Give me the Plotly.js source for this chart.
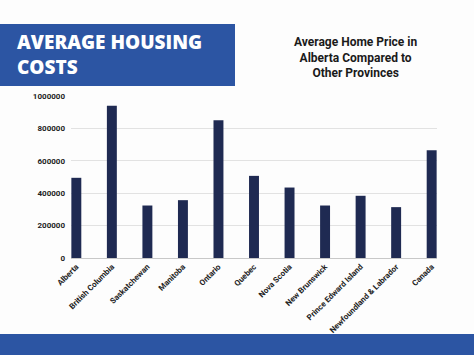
<!DOCTYPE html>
<html>
<head>
<meta charset="utf-8">
<script src="https://cdn.plot.ly/plotly-3.0.1.min.js"></script>
<style>html,body{margin:0;padding:0;background:#fdfdfd;}#chart{width:474px;height:355px;}</style>
</head>
<body>
<div id="chart"></div>
<script>
const categories = ["Alberta", "British Columbia", "Saskatchewan", "Manitoba", "Ontario", "Quebec", "Nova Scotia", "New Brunswick", "Prince Edward Island", "Newfoundland & Labrador", "Canada"];
const avgPrice = [495000, 940000, 324000, 357000, 850000, 507000, 435000, 324000, 384000, 314000, 665000];
const yTicks = [0, 200000, 400000, 600000, 800000, 1000000];
const yTickLabels = ["0", "200000", "400000", "600000", "800000", "1000000"];

const W = 474, H = 355;
const mL = 71, mR = 37, mT = 96, mB = 97;
const plotH = H - mT - mB;
function py(pix) { return (H - mB - pix) / plotH; }
function px(pix) { return (pix - mL) / (W - mL - mR); }

const trace = {
  type: "bar",
  x: categories.map((c, i) => i),
  y: avgPrice,
  marker: {color: "#1f2a52", line: {width: 0}},
  width: 0.28,
  hoverinfo: "skip"
};

const titleFont = {family: "'Open Sans'", size: 19, weight: 800, color: "#ffffff"};

const layout = {
  width: W, height: H,
  margin: {l: mL, r: mR, t: mT, b: mB, pad: 0},
  paper_bgcolor: "#fdfdfd",
  plot_bgcolor: "#fdfdfd",
  showlegend: false,
  font: {family: "Roboto, 'Open Sans', sans-serif", color: "#222"},
  xaxis: {
    range: [-0.15, 10.15],
    tickmode: "array",
    tickvals: categories.map((c, i) => i),
    ticktext: categories,
    tickangle: -45,
    tickfont: {size: 8, family: "Roboto", weight: "bold", color: "#222"},
    showgrid: false,
    zeroline: false,
    showline: true,
    linecolor: "#c8c8c8",
    linewidth: 1,
    ticks: "",
    fixedrange: true
  },
  yaxis: {
    range: [0, 1000000],
    tickmode: "array",
    tickvals: yTicks,
    ticktext: yTickLabels,
    tickfont: {size: 8, family: "Roboto", weight: "bold", color: "#222"},
    showgrid: true,
    gridcolor: "#e2e2e2",
    gridwidth: 1,
    zeroline: false,
    showline: false,
    ticks: "",
    ticklabelstandoff: 5,
    fixedrange: true
  },
  shapes: [
    {type: "rect", xref: "paper", yref: "paper", x0: px(0), x1: px(235), y0: py(86), y1: py(24), fillcolor: "#2c55a3", line: {width: 0}, layer: "above"},
    {type: "rect", xref: "paper", yref: "paper", x0: px(0), x1: px(474), y0: py(355), y1: py(334), fillcolor: "#2c55a3", line: {width: 0}, layer: "above"}
  ],
  annotations: [
    {xref: "paper", yref: "paper", x: px(16), y: py(42), xanchor: "left", yanchor: "middle", align: "left", showarrow: false, borderpad: 0,
     text: "AVERAGE HOUSING", font: titleFont},
    {xref: "paper", yref: "paper", x: px(16), y: py(66.5), xanchor: "left", yanchor: "middle", align: "left", showarrow: false, borderpad: 0,
     text: "COSTS", font: titleFont},
    {xref: "paper", yref: "paper", x: px(355), y: py(57), xanchor: "center", yanchor: "middle", align: "center", showarrow: false,
     text: "Average Home Price in<br>Alberta Compared to<br>Other Provinces", font: {family: "Roboto", size: 12, weight: "bold", color: "#1a1a1a"}}
  ]
};

Plotly.newPlot("chart", [trace], layout, {displayModeBar: false, staticPlot: true});
</script>
</body>
</html>
